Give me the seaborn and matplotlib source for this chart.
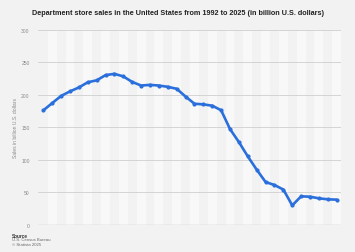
import matplotlib
matplotlib.use("Agg")
import matplotlib.pyplot as plt
import seaborn as sns
import pandas as pd

years = list(range(1992, 2026))
sales = [175.8, 187, 198, 205, 211, 219, 222, 230, 232, 228,
         219.5, 214, 215, 214, 212, 209, 197, 186, 185, 183,
         176, 147, 127, 105, 84.6, 65.6, 61, 54, 29.7, 43.6,
         43, 40.5, 39, 38.5]
y_ticks = [0, 50, 100, 150, 200, 250, 300]

df = pd.DataFrame({"year": years, "sales": sales})

sns.set_theme(style="white")
plt.rcParams["font.family"] = ["Liberation Sans", "DejaVu Sans"]

bg = "#f2f2f2"
fig = plt.figure(figsize=(3.55, 2.53), dpi=100, facecolor=bg)
ax = fig.add_axes([0.107, 0.108, 0.854, 0.771])
ax.set_facecolor(bg)

# alternating year bands
for yr in years:
    if yr % 2 == 1:
        ax.axvspan(yr - 0.5, yr + 0.5, color="#f8f8f8", lw=0, zorder=0)

for t in y_ticks[1:]:
    ax.axhline(t, color="#d4d4d4", lw=0.7, zorder=1)
ax.axhline(0, color="#b0b0b0", lw=0.9, zorder=1)

sns.lineplot(data=df, x="year", y="sales", ax=ax, color="#2a6fdc", lw=1.9,
             marker="o", markersize=3, markeredgewidth=0, zorder=3)

ax.set_xlim(1991.4, 2025.5)
ax.set_ylim(0, 300)
ax.set_yticks(y_ticks)
ax.set_yticklabels([str(t) for t in y_ticks], fontsize=3.6, color="#8a8a8a")
ax.set_xticks([])
ax.tick_params(axis="y", length=0, pad=6)
for s in ax.spines.values():
    s.set_visible(False)
ax.set_xlabel("")
ax.set_ylabel("Sales in billion U.S. dollars", fontsize=3.6, color="#8a8a8a", labelpad=2)

fig.text(0.5, 0.948, "Department store sales in the United States from 1992 to 2025 (in billion U.S. dollars)",
         ha="center", va="center", fontsize=5.2, fontweight="bold", color="#222222")
fig.text(0.034, 0.067, "Source", fontsize=3.4, color="#333333", va="center", fontweight="bold")
fig.text(0.034, 0.050, "U.S. Census Bureau", fontsize=3.1, color="#666666", va="center")
fig.text(0.034, 0.031, "© Statista 2025", fontsize=3.1, color="#666666", va="center")

fig.savefig("out.png", dpi=100, facecolor=bg)
